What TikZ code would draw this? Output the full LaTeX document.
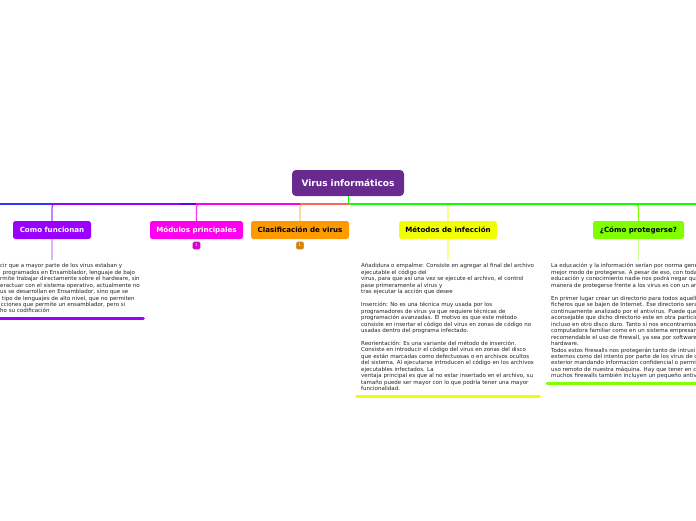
\documentclass[tikz,border=0pt]{standalone}
\usepackage{fontspec}
\setmainfont{DejaVu Sans}
\definecolor{cpurple}{HTML}{9900FF}
\definecolor{cmagenta}{HTML}{FF00EE}
\definecolor{corange}{HTML}{FF9900}
\definecolor{cyellow}{HTML}{F2FF00}
\definecolor{cgreen}{HTML}{80FF00}
\definecolor{croot}{HTML}{682A8F}
\definecolor{ctext}{HTML}{222222}
\tikzset{
  topic/.style={rounded corners=2.5pt,minimum height=18pt,inner sep=0pt,font=\fontsize{7.1}{8}\selectfont\bfseries},
  badge/.style={rounded corners=1.5pt,minimum size=7.4pt,inner sep=0pt,line width=0.5pt,font=\fontsize{4}{4}\selectfont},
  body/.style={anchor=north west,align=left,inner sep=0pt,text=ctext,font=\fontsize{5.5}{6.47}\selectfont},
  branch/.style={line width=1.2pt,rounded corners=3pt},
  stub/.style={line width=1.3pt},
  bar/.style={line width=2.8pt,line cap=round},
}
\begin{document}
\begin{tikzpicture}[x=1pt,y=-1pt]
\useasboundingbox (0,0) rectangle (696,520);
\node[rounded corners=4pt,fill=croot,text=white,minimum width=112pt,minimum height=26pt,inner sep=0pt,font=\fontsize{9}{10}\selectfont\bfseries] (root) at (348,183) {Virus informáticos};
\node[topic,fill=cpurple,text=white,minimum width=78pt] (como) at (52,230) {Como funcionan};
\node[topic,fill=cmagenta,text=white,minimum width=93pt] (modulos) at (196.5,230) {Módulos principales};
\node[topic,fill=corange,text=black,minimum width=98pt] (clasif) at (300,230) {Clasificación de virus};
\node[topic,fill=cyellow,text=black,minimum width=98pt] (metodos) at (448,230) {Métodos de infección};
\node[topic,fill=cgreen,text=black,minimum width=91pt] (proteg) at (638.5,230) {¿Cómo protegerse?};
\node[badge,fill=cmagenta!85!black,draw=cmagenta!60!gray,text=white] (b1) at (196.5,245.5) {1};
\node[badge,fill=corange!85!black,draw=corange!60!gray,text=white] (b2) at (300,245.5) {1};
\coordinate (rootdown) at (348.5,204);
\coordinate (leftend) at (0,204);
\coordinate (rightend) at (696,204);
% branches
\draw[branch,color=cpurple!75!white] (como.north) -- (52,204) -- (60,204);
\draw[branch,color=cmagenta!80!white] (modulos.north) -- (196.5,204) -- (205,204);
\draw[branch,color=corange!55!white] (clasif.north) -- (300,204) -- (309,204);
\draw[branch,color=cyellow!70!white] (metodos.north) -- (448,204) -- (439,204);
\draw[branch,color=cgreen] (proteg.north) -- (638.5,204) -- (630,204);
% trunk lines
\draw[stub,color=blue!80!white] (leftend) -- (52,204);
\draw[stub,color=cpurple] (52,204) -- (180,204);
\draw[stub,color=cpurple!60!blue] (180,204) -- (196,204);
\draw[stub,color=cmagenta] (196,204) -- (300,204);
\draw[stub,color=cmagenta!35!corange] (300,204) -- (rootdown);
\draw[stub,color=green!90!cgreen] (rootdown) -- (rightend);
\draw[stub,color=green] (root.south -| rootdown) -- (rootdown);
% bodies
\coordinate (comoend) at (52,260);
\coordinate (metodosend) at (448,260);
\coordinate (protegend) at (638.5,260);
\draw[stub,color=cpurple!30!white] (como.south) -- (comoend);
\draw[stub,color=cyellow!45!white] (metodos.south) -- (metodosend);
\draw[stub,color=cgreen!45!white] (proteg.south) -- (protegend);
\node[body] (tcomo) at (0,263.3) {cir que a mayor parte de los virus estaban y\\
\hspace*{2.6pt}programados en Ensamblador, lenguaje de bajo\\
rmite trabajar directamente sobre el hardware, sin\\
eractuar con el sistema operativo, actualmente no\\
us se desarrollan en Ensamblador, sino que se\\
\hspace*{2pt}tipo de lenguajes de alto nivel, que no permiten\\
\hspace*{0.6pt}cciones que permite un ensamblador, pero si\\
ho su codificación};
\node[body] (tmetodos) at (361,263.3) {Añadidura o empalme: Consiste en agregar al final del archivo\\
ejecutable el código del\\
virus, para que así una vez se ejecute el archivo, el control\\
pase primeramente al virus y\\
tras ejecutar la acción que desee\\[6.47pt]
Inserción: No es una técnica muy usada por los\\
programadores de virus ya que requiere técnicas de\\
programación avanzadas. El motivo es que este método\\
consiste en insertar el código del virus en zonas de código no\\
usadas dentro del programa infectado.\\[6.47pt]
Reorientación: Es una variante del método de inserción.\\
Consiste en introducir el código del virus en zonas del disco\\
que están marcadas como defectuosas o en archivos ocultos\\
del sistema. Al ejecutarse introducen el código en los archivos\\
ejecutables infectados. La\\
ventaja principal es que al no estar insertado en el archivo, su\\
tamaño puede ser mayor con lo que podría tener una mayor\\
funcionalidad.};
\node[body] (tproteg) at (551,263.3) {La educación y la información serían por norma gene\\
mejor modo de protegerse. A pesar de eso, con toda\\
educación y conocimiento nadie nos podrá negar que\\
manera de protegerse frente a los virus es con un ar\\[6.47pt]
En primer lugar crear un directorio para todos aquell\\
ficheros que se bajen de Internet. Ese directorio sera\\
continuamente analizado por el antivirus. Puede que\\
aconsejable que dicho directorio este en otra particio\\
incluso en otro disco duro. Tanto si nos encontramos\\
computadora familiar como en un sistema empresar\\
recomendable el uso de firewall, ya sea por software\\
hardware.\\
Todos estos firewalls nos protegerán tanto de intrusi\\
externos como del intento por parte de los virus de c\\
exterior mandando información confidencial o permit\\
uso remoto de nuestra máquina. Hay que tener en c\\
muchos firewalls también incluyen un pequeño antiv};
\coordinate (b1a) at (0,318.5); \coordinate (b1b) at (143.5,318.5);
\coordinate (b2a) at (356.5,396.5); \coordinate (b2b) at (539.5,396.5);
\coordinate (b3a) at (547,383.5); \coordinate (b3b) at (697,383.5);
\draw[bar,cpurple] (b1a) -- (b1b);
\draw[bar,cyellow] (b2a) -- (b2b);
\draw[bar,cgreen] (b3a) -- (b3b);
\end{tikzpicture}
\end{document}
